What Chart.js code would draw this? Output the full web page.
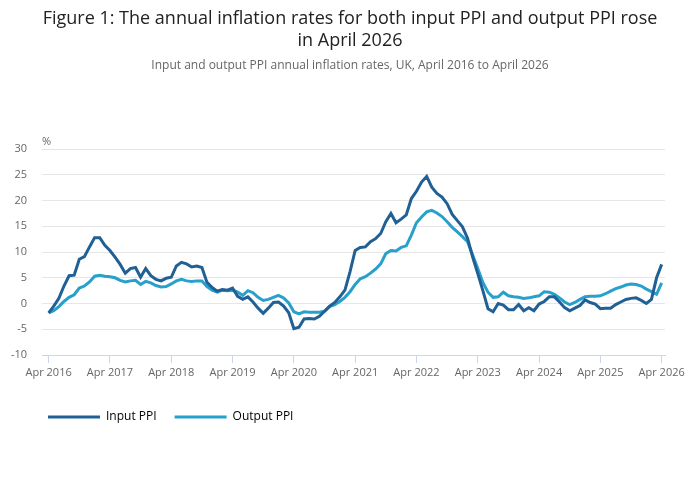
<!DOCTYPE html>
<html>
<head>
<meta charset="utf-8">
<script src="https://cdn.jsdelivr.net/npm/chart.js@4"></script>
<style>
  html, body { margin: 0; padding: 0; background: #fff; }
  #wrap { width: 700px; height: 502px; }
</style>
</head>
<body>
<div id="wrap"><canvas id="ppiChart"></canvas></div>
<script>
const ppiChart = document.getElementById("ppiChart");

// Monthly, April 2016 to April 2026 (121 months)
const inputPPI = [
  -1.8, -0.5, 1.0, 3.4, 5.4, 5.5, 8.6, 9.1, 11.0,
  12.8, 12.8, 11.3, 10.3, 9.0, 7.6, 5.9, 6.8, 7.0, 5.1, 6.8, 5.4,
  4.7, 4.4, 4.9, 5.1, 7.3, 8.0, 7.7, 7.1, 7.3, 7.0, 4.1, 3.1,
  2.4, 2.7, 2.6, 3.0, 1.4, 0.8, 1.3, 0.3, -0.9, -1.9, -0.9, 0.2,
  0.3, -0.5, -1.8, -4.9, -4.6, -3.0, -2.9, -3.0, -2.5, -1.5, -0.5, 0.2,
  1.3, 2.6, 6.2, 10.3, 10.9, 11.0, 12.0, 12.6, 13.6, 15.9, 17.5, 15.7,
  16.4, 17.2, 20.4, 21.8, 23.6, 24.7, 22.6, 21.4, 20.7, 19.4, 17.3, 16.1,
  14.9, 12.7, 9.0, 5.8, 2.5, -1.0, -1.6, 0.0, -0.3, -1.2, -1.2, -0.2,
  -1.4, -0.8, -1.4, -0.1, 0.4, 1.3, 1.3, 0.3, -0.8, -1.4, -0.9, -0.4,
  0.7, 0.2, -0.1, -1.0, -0.9, -0.9, -0.2, 0.3, 0.8, 1.0, 1.1, 0.6,
  0.0, 0.8, 5.0, 7.6,
];

const outputPPI = [
  -1.8, -1.4, -0.6, 0.4, 1.2, 1.7, 3.0, 3.4, 4.2,
  5.3, 5.5, 5.3, 5.2, 5.0, 4.5, 4.2, 4.4, 4.5, 3.7, 4.3, 4.0,
  3.5, 3.2, 3.3, 3.8, 4.4, 4.7, 4.4, 4.3, 4.4, 4.4, 3.3, 2.6,
  2.2, 2.6, 2.5, 2.6, 2.2, 1.6, 2.5, 2.1, 1.2, 0.6, 0.8, 1.2,
  1.6, 1.1, 0.1, -1.6, -2.0, -1.6, -1.7, -1.7, -1.7, -1.5, -0.6, -0.2,
  0.4, 1.2, 2.3, 3.7, 4.8, 5.2, 5.9, 6.7, 7.7, 9.7, 10.3, 10.2,
  10.9, 11.2, 13.3, 15.7, 16.8, 17.8, 18.1, 17.6, 16.9, 15.9, 14.8, 13.9,
  13.0, 12.0, 9.4, 6.8, 4.1, 2.2, 1.2, 1.3, 2.2, 1.5, 1.3, 1.2,
  1.0, 1.1, 1.3, 1.5, 2.3, 2.2, 1.8, 1.1, 0.3, -0.2, 0.2, 0.8,
  1.3, 1.4, 1.4, 1.5, 1.9, 2.4, 2.9, 3.2, 3.6, 3.8, 3.7, 3.4,
  2.8, 2.3, 1.8, 4.0,
];

// x tick every 12 months
const tickMonths = [0, 12, 24, 36, 48, 60, 72, 84, 96, 108, 120];
const tickLabels = [
  "Apr 2016", "Apr 2017", "Apr 2018", "Apr 2019", "Apr 2020", "Apr 2021",
  "Apr 2022", "Apr 2023", "Apr 2024", "Apr 2025", "Apr 2026",
];

const seriesNames = ["Input PPI", "Output PPI"];
const seriesColors = ["#206095", "#27a0cc"];

const font = "'Open Sans', 'Noto Sans', sans-serif";

// "%" unit label above the y axis
const unitLabel = {
  id: "unitLabel",
  afterDraw(chart) {
    const { ctx, chartArea } = chart;
    ctx.save();
    ctx.font = "11px " + font;
    ctx.fillStyle = "#666666";
    ctx.textAlign = "left";
    ctx.textBaseline = "middle";
    ctx.fillText("%", chartArea.left, chartArea.top - 7);
    ctx.restore();
  },
};

// line the legend up with the first data point
const legendShift = {
  id: "legendShift",
  afterLayout(chart) {
    chart.legend.left += 30;
    chart.legend.right += 30;
  },
};

const toPoints = (arr) => arr.map((v, i) => ({ x: i, y: v }));

const dataPPI = {
  datasets: [
    {
      label: seriesNames[0],
      data: toPoints(inputPPI),
      borderColor: seriesColors[0],
      backgroundColor: seriesColors[0],
      borderWidth: 3,
      pointRadius: 0,
      tension: 0,
    },
    {
      label: seriesNames[1],
      data: toPoints(outputPPI),
      borderColor: seriesColors[1],
      backgroundColor: seriesColors[1],
      borderWidth: 3,
      pointRadius: 0,
      tension: 0,
    },
  ],
};

const configPPI = {
  type: "line",
  data: dataPPI,
  options: {
    responsive: true,
    maintainAspectRatio: false,
    animation: false,
    layout: { padding: { left: 0, right: 0, top: 0, bottom: 69 } },
    scales: {
      x: {
        type: "linear",
        min: -1.3,
        max: 120.65,
        afterBuildTicks: (scale) => {
          scale.ticks = tickMonths.map((m) => ({ value: m }));
        },
        afterFit: (scale) => {
          scale.height = 38;
        },
        ticks: {
          autoSkip: false,
          maxRotation: 0,
          padding: 3,
          color: "#666666",
          font: { family: font, size: 11 },
          callback: (value) => tickLabels[tickMonths.indexOf(value)],
        },
        grid: {
          drawOnChartArea: false,
          drawTicks: true,
          tickLength: 8,
          color: "#ccd6eb",
        },
        border: { color: "#ccd6eb", width: 1 },
      },
      y: {
        min: -10,
        max: 30,
        afterFit: (scale) => {
          scale.width = 42;
        },
        ticks: {
          stepSize: 5,
          padding: 15,
          color: "#666666",
          font: { family: font, size: 11 },
        },
        grid: { color: "#e6e6e6", drawTicks: false },
        border: { display: false },
      },
      // empty axis that just keeps the right margin
      yRight: {
        position: "right",
        afterFit: (scale) => {
          scale.width = 35;
        },
        ticks: { display: false },
        grid: { display: false },
        border: { display: false },
      },
    },
    plugins: {
      title: {
        display: true,
        text: [
          "Figure 1: The annual inflation rates for both input PPI and output PPI rose",
          "in April 2026",
        ],
        color: "#222222",
        font: { family: font, size: 18, weight: "normal", lineHeight: 1.2 },
        padding: { top: 8.5, bottom: 7 },
      },
      subtitle: {
        display: true,
        text: "Input and output PPI annual inflation rates, UK, April 2016 to April 2026",
        color: "#666666",
        font: { family: font, size: 12, weight: "normal" },
        padding: { top: 0, bottom: 76 },
      },
      legend: {
        position: "bottom",
        align: "start",
        labels: {
          boxWidth: 52,
          boxHeight: 3,
          padding: 18,
          color: "#707070",
          font: { family: font, size: 12 },
          generateLabels: (chart) =>
            chart.data.datasets.map((ds, i) => ({
              text: ds.label,
              fillStyle: ds.borderColor,
              strokeStyle: ds.borderColor,
              lineWidth: 0,
              datasetIndex: i,
            })),
        },
      },
      tooltip: { enabled: false },
    },
  },
  plugins: [unitLabel, legendShift],
};

new Chart(ppiChart, configPPI);
</script>
</body>
</html>
